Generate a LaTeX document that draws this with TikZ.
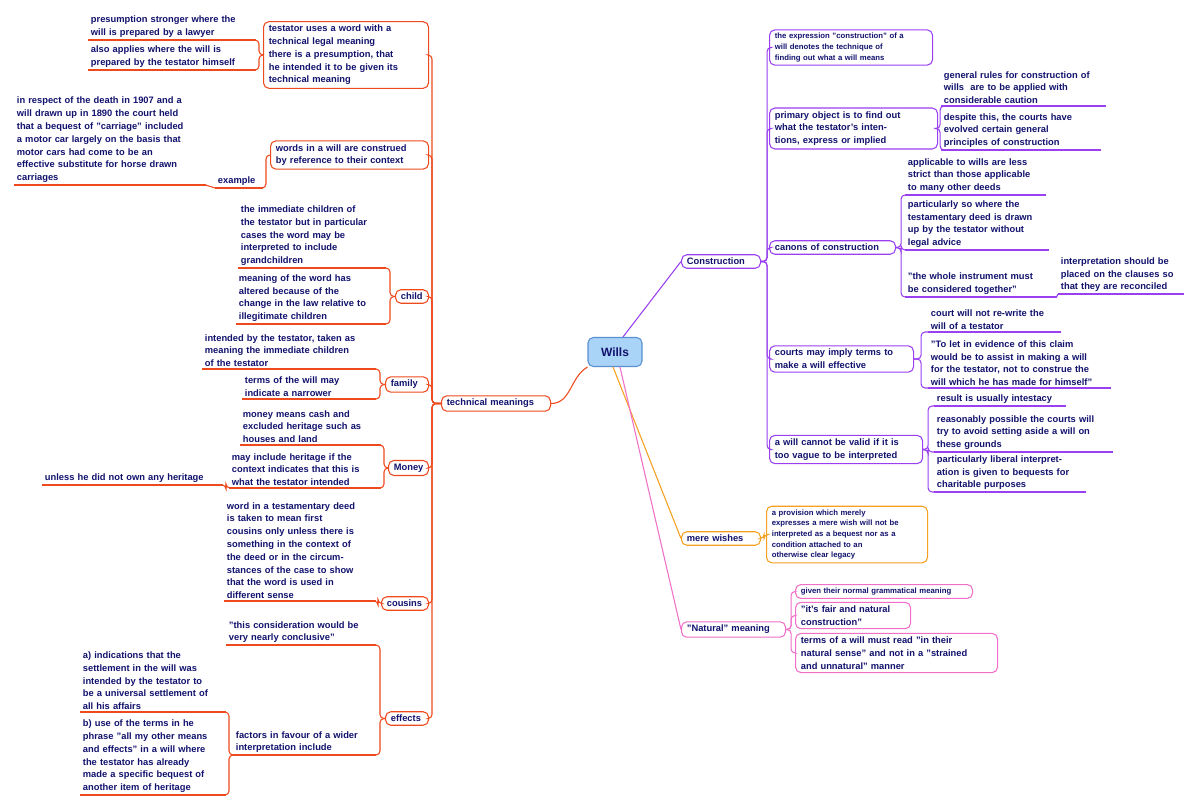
\documentclass[tikz,border=0pt]{standalone}
\usepackage{fontspec}
\setmainfont{Liberation Sans}
\definecolor{txt}{HTML}{12126E}
\definecolor{L}{HTML}{EE4A1E}
\definecolor{P}{HTML}{9A40F0}
\definecolor{O}{HTML}{F5A020}
\definecolor{K}{HTML}{F070C8}
\definecolor{wf}{HTML}{A9D3F7}
\definecolor{wb}{HTML}{5A8FD0}
\newcommand\FN{\bfseries\fontsize{7}{9.6}\selectfont}
\newcommand\FS{\bfseries\fontsize{5.8}{8}\selectfont}
\tikzset{ut/.style={inner xsep=2pt,inner ysep=1.5pt,align=left,font=\FN},
 bx/.style={inner xsep=4pt,inner ysep=2.5pt,align=left,font=\FN,rounded corners=4pt,draw,line width=0.8pt},
 ln/.style={line width=0.8pt,rounded corners=3pt}}
\newcommand\UL[7]{\pgfmathsetmacro\wdd{(#5-#3)*0.75-4}%
 \node[ut,#2,text=txt,text width=\wdd pt,anchor=south west] (#1) at (#3,#6) {#7};
 \draw[ln,#2] (#1.south west) -- (#1.south east);}
\newcommand\BX[7]{\pgfmathsetmacro\wdd{(#5-#3)*0.75-8}\pgfmathsetmacro\ym{(#4+#6)/2}%
 \node[bx,draw=#2,text=txt,text width=\wdd pt,anchor=west] (#1) at (#3,\ym) {#7};}
\newcommand\BXS[7]{\pgfmathsetmacro\wdd{(#5-#3)*0.75-8}\pgfmathsetmacro\ym{(#4+#6)/2}%
 \node[bx,font=\FS,draw=#2,text=txt,text width=\wdd pt,anchor=west] (#1) at (#3,\ym) {#7};}
\begin{document}
\begin{tikzpicture}[x=0.75pt,y=-0.75pt]
\useasboundingbox (0,0) rectangle (1200,807);
\fill[white] (0,0) rectangle (1200,807);
% center
\node[draw=wb,fill=wf,rounded corners=4pt,line width=0.8pt,minimum width=54*0.75pt,minimum height=29*0.75pt,font=\bfseries\fontsize{9}{10}\selectfont,text=txt] (wills) at (615,352) {Wills};
% ---------- right side
\BX{con}{P}{681}{253}{760}{270}{Construction}
\BX{mw}{O}{681}{530}{760}{547}{mere wishes}
\BX{nat}{K}{681}{621}{785}{638}{"Natural" meaning}
\draw[ln,P] (wills.north) ++(8,0) -- (con.west);
\draw[ln,O] (wills.south) ++(-2,0) -- (mw.west);
\draw[ln,K] (wills.south) ++(5,0) -- (nat.west);
\BXS{c1}{P}{769}{30}{932}{65}{the expression "construction" of a\\will denotes the technique of\\finding out what a will means}
\BX{c2}{P}{769}{107}{937}{150}{primary object is to find out\\what the testator's inten-\\tions, express or implied}
\BX{c3}{P}{769}{239}{895}{256}{canons of construction}
\BX{c4}{P}{769}{344}{913}{374}{courts may imply terms to\\make a will effective}
\BX{c5}{P}{769}{434}{922}{465}{a will cannot be valid if it is\\too vague to be interpreted}
\foreach \c in {c1,c2,c3,c4,c5} \draw[ln,P] (con.east) -- ++(6,0) |- (\c.west);
\UL{c21}{P}{941}{68}{1105}{106}{general rules for construction of\\wills \ are to be applied with\\considerable caution}
\UL{c22}{P}{941}{110}{1100}{150}{despite this, the courts have\\evolved certain general\\principles of construction}
\foreach \c in {c21,c22} \draw[ln,P] (c2.east) -- ++(2,0) |- (\c.south west);
\UL{c31}{P}{905}{157}{1045}{195}{applicable to wills are less\\strict than those applicable\\to many other deeds}
\UL{c32}{P}{905}{199}{1048}{250}{particularly so where the\\testamentary deed is drawn\\up by the testator without\\legal advice}
\UL{c33}{P}{905}{270}{1056}{297}{"the whole instrument must\\be considered together"}
\foreach \c in {c31,c32,c33} \draw[ln,P] (c3.east) -- ++(5,0) |- (\c.south west);
\UL{c331}{P}{1058}{254}{1183}{294}{interpretation should be\\placed on the clauses so\\that they are reconciled}
\draw[ln,P] (c33.south east) -- (c331.south west);
\UL{c41}{P}{928}{307}{1060}{332}{court will not re-write the\\will of a testator}
\UL{c42}{P}{928}{334}{1110}{388}{"To let in evidence of this claim\\would be to assist in making a will\\for the testator, not to construe the\\will which he has made for himself"}
\foreach \c in {c41,c42} \draw[ln,P] (c4.east) -- ++(7,0) |- (\c.south west);
\UL{c51}{P}{934}{393}{1065}{406}{result is usually intestacy}
\UL{c52}{P}{934}{410}{1112}{452}{reasonably possible the courts will\\try to avoid setting aside a will on\\these grounds}
\UL{c53}{P}{934}{453}{1085}{492}{particularly liberal interpret-\\ation is given to bequests for\\charitable purposes}
\foreach \c in {c51,c52,c53} \draw[ln,P] (c5.east) -- ++(5,0) |- (\c.south west);
\BXS{mw1}{O}{766}{506}{927}{563}{a provision which merely\\expresses a mere wish will not be\\interpreted as a bequest nor as a\\condition attached to an\\otherwise clear legacy}
\draw[ln,O] (mw.east) -- ++(3,0) |- (mw1.west);
\BXS{n1}{K}{795}{585}{972}{598}{given their normal grammatical meaning}
\BX{n2}{K}{795}{601}{910}{630}{"it's fair and natural\\construction"}
\BX{n3}{K}{795}{632}{997}{674}{terms of a will must read "in their\\natural sense" and not in a "strained\\and unnatural" manner}
\foreach \c in {n1,n2,n3} \draw[ln,K] (nat.east) -- ++(5,0) |- (\c.west);
% ---------- left side
\BX{tm}{L}{441}{395}{550}{412}{technical meanings}
\draw[ln,L] (tm.east) to[out=0,in=210] (wills.south west);
\BX{t1}{L}{263}{22}{428}{88}{testator uses a word with a\\technical legal meaning\\there is a presumption, that\\he intended it to be given its\\technical meaning}
\BX{t2}{L}{270}{140}{428}{170}{words in a will are construed\\by reference to their context}
\BX{t3}{L}{395}{288}{428}{305}{child}
\BX{t4}{L}{385}{376}{428}{393}{family}
\BX{t5}{L}{388}{459}{428}{477}{Money}
\BX{t6}{L}{381}{595}{428}{612}{cousins}
\BX{t7}{L}{385}{710}{428}{727}{effects}
\foreach \c in {t1,t2,t3,t4,t5,t6,t7} \draw[ln,L] (tm.west) -- ++(-9,0) |- (\c.east);
\UL{t11}{L}{88}{14}{255}{40}{presumption stronger where the\\will is prepared by a lawyer}
\UL{t12}{L}{88}{42}{255}{70}{also applies where the will is\\prepared by the testator himself}
\foreach \c in {t11,t12} \draw[ln,L] (t1.west) -- ++(-4,0) |- (\c.south east);
\UL{t21}{L}{215}{175}{262}{188}{example}
\draw[ln,L] (t2.west) -- ++(-4,0) |- (t21.south east);
\UL{t211}{L}{14}{95}{205}{185}{in respect of the death in 1907 and a\\will drawn up in 1890 the court held\\that a bequest of "carriage" included\\a motor car largely on the basis that\\motor cars had come to be an\\effective substitute for horse drawn\\carriages}
\draw[ln,L] (t21.south west) -- (t211.south east);
\UL{t31}{L}{238}{203}{385}{268}{the immediate children of\\the testator but in particular\\cases the word may be\\interpreted to include\\grandchildren}
\UL{t32}{L}{236}{271}{385}{324}{meaning of the word has\\altered because of the\\change in the law relative to\\illegitimate children}
\foreach \c in {t31,t32} \draw[ln,L] (t3.west) -- ++(-5,0) |- (\c.south east);
\UL{t41}{L}{202}{330}{375}{369}{intended by the testator, taken as\\meaning the immediate children\\of the testator}
\UL{t42}{L}{242}{373}{375}{399}{terms of the will may\\indicate a narrower}
\foreach \c in {t41,t42} \draw[ln,L] (t4.west) -- ++(-5,0) |- (\c.south east);
\UL{t51}{L}{240}{406}{380}{445}{money means cash and\\excluded heritage such as\\houses and land}
\UL{t52}{L}{229}{448}{380}{488}{may include heritage if the\\context indicates that this is\\what the testator intended}
\foreach \c in {t51,t52} \draw[ln,L] (t5.west) -- ++(-4,0) |- (\c.south east);
\UL{t521}{L}{42}{472}{222}{485}{unless he did not own any heritage}
\draw[ln,L] (t52.south west) -- ++(-3,0) |- (t521.south east);
\UL{t61}{L}{224}{497}{375}{601}{word in a testamentary deed\\is taken to mean first\\cousins only unless there is\\something in the context of\\the deed or in the circum-\\stances of the case to show\\that the word is used in\\different sense}
\draw[ln,L] (t6.west) -- ++(-3,0) |- (t61.south east);
\UL{t71}{L}{226}{617}{375}{645}{"this consideration would be\\very nearly conclusive"}
\UL{t72}{L}{233}{727}{375}{755}{factors in favour of a wider\\interpretation include}
\foreach \c in {t71,t72} \draw[ln,L] (t7.west) -- ++(-5,0) |- (\c.south east);
\UL{t721}{L}{80}{647}{225}{712}{a) indications that the\\settlement in the will was\\intended by the testator to\\be a universal settlement of\\all his affairs}
\UL{t722}{L}{80}{714}{225}{795}{b) use of the terms in he\\phrase "all my other means\\and effects" in a will where\\the testator has already\\made a specific bequest of\\another item of heritage}
\foreach \c in {t721,t722} \draw[ln,L] (t72.south west) -- ++(-4,0) |- (\c.south east);
\end{tikzpicture}
\end{document}
